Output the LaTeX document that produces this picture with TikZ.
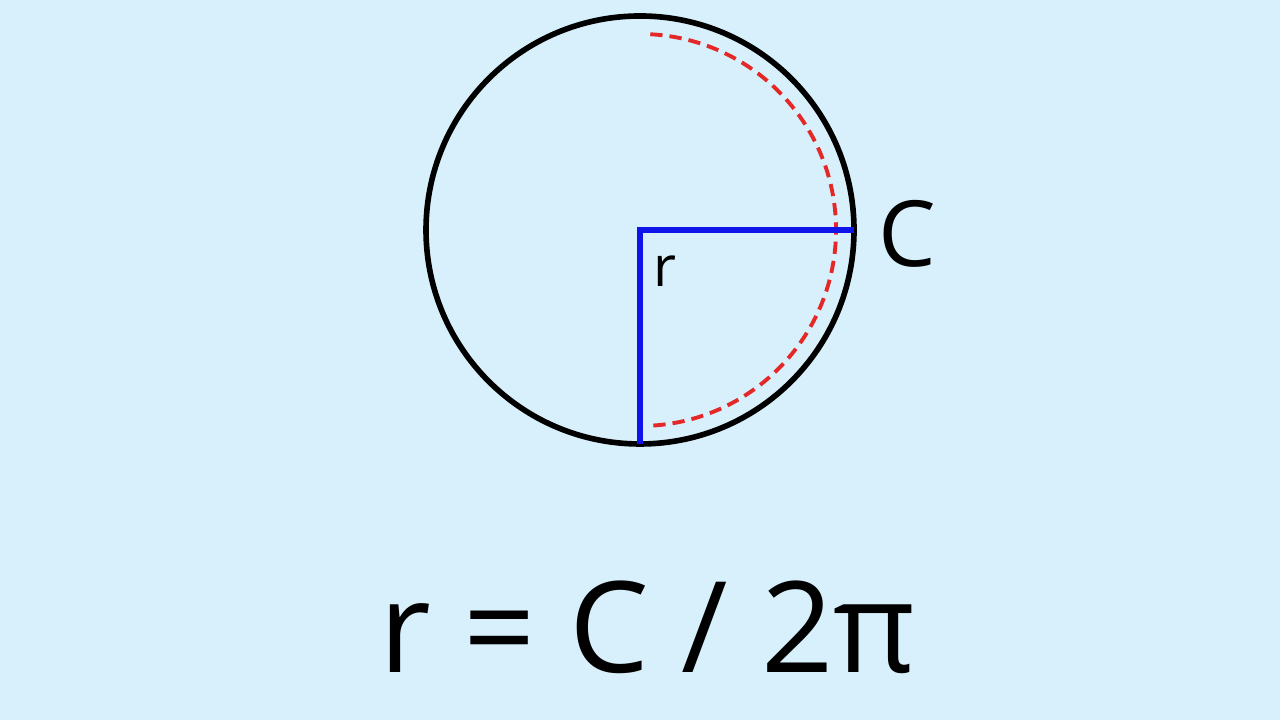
\documentclass[tikz,border=0pt]{standalone}
\usepackage{fontspec}
\setmainfont{Open Sans}
\usepackage{tikz}
\usetikzlibrary{calc}
\definecolor{bgblue}{RGB}{215,240,251}
\definecolor{radblue}{RGB}{15,20,235}
\definecolor{arcred}{RGB}{228,40,40}
\def\centerarc[#1](#2)(#3:#4:#5){\draw[#1] ($(#2)+({#5*cos(#3)},{#5*sin(#3)})$) arc (#3:#4:#5);}

\begin{document}
\begin{tikzpicture}
		%%%%% START %%%%%
		
		\fill[bgblue] (0, 0) rectangle (12.8, 7.2);
		\useasboundingbox (0, 0) rectangle (12.8, 7.2);
		
		\coordinate (O) at (6.4, 4.9);
		
		\draw[line width=1.6pt, color=black] (O) circle (2.14);
		
		\centerarc[line width=1.1pt, color=arcred, dash pattern=on 3.5pt off 2pt](O)(87:-88:1.96);
		
		\draw[line width=1.7pt, color=radblue] (8.54, 4.9) -- (O) -- (6.4, 2.76);
		
		\node[font=\fontsize{16}{18}\selectfont, anchor=base] (rlabel) at (6.65, 4.33) {r};
		\node[font=\fontsize{26}{30}\selectfont, anchor=base] (clabel) at (9.07, 4.53) {C};
		
		\node[font=\fontsize{36}{42}\selectfont, anchor=base] (formula) at (6.475, 0.47) {r = C / 2π};
		
		%%%%% END %%%%%
	\end{tikzpicture}
\end{document}
